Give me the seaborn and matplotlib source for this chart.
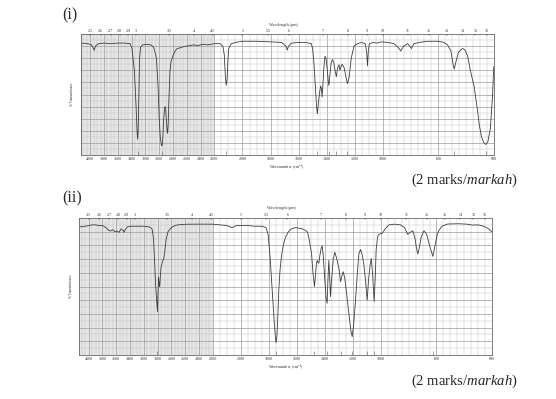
import numpy as np
import matplotlib
matplotlib.use("Agg")
import matplotlib.pyplot as plt
import seaborn as sns

sns.set_theme(style="white")
plt.rcParams['font.family'] = ['Liberation Serif', 'DejaVu Serif']
plt.rcParams['mathtext.fontset'] = 'custom'
plt.rcParams['mathtext.rm'] = 'Liberation Serif'
plt.rcParams['mathtext.it'] = 'Liberation Serif:italic'

# spectrum (i): wavenumber (cm-1) and % transmittance
wn_i = [4135, 4050, 3990, 3960, 3940, 3925, 3880, 3800, 3700, 3600, 3500, 3420,
        3395, 3360, 3335, 3320, 3312, 3305, 3295, 3284, 3270, 3240, 3180, 3120,
        3080, 3040, 3015, 3000, 2985, 2968, 2958, 2948, 2935, 2918, 2907, 2898,
        2885, 2878, 2870, 2860, 2845, 2830, 2800, 2770, 2740, 2700, 2650, 2600,
        2550, 2500, 2450, 2400, 2350, 2300, 2250, 2200, 2160, 2140, 2130, 2122,
        2116, 2110, 2104, 2098, 2080, 2050, 2000, 1900, 1800, 1720, 1690, 1681,
        1672, 1650, 1600, 1550, 1510, 1500, 1490, 1480, 1472, 1466, 1460, 1450,
        1443, 1437, 1433, 1428, 1420, 1412, 1405, 1395, 1388, 1384, 1378, 1368,
        1360, 1350, 1340, 1331, 1322, 1312, 1305, 1298, 1290, 1275, 1262, 1252,
        1240, 1225, 1205, 1181, 1150, 1125, 1115, 1109, 1103, 1095, 1070, 1040,
        1010, 980, 960, 945, 935, 925, 910, 897, 888, 870, 840, 800, 780, 767,
        755, 748, 743, 738, 728, 713, 705, 695, 685, 671, 660, 653, 645, 636,
        629, 622, 613, 605, 601]
t_i = [92.5, 92, 91.5, 89, 86.5, 90, 92, 92.5, 92, 92.5, 92.5, 92,
       88, 70, 40, 18, 13, 20, 50, 80, 89, 91, 91.5, 91,
       89, 80, 55, 30, 15, 8, 7.6, 14, 30, 40, 39, 30,
       20, 18, 25, 45, 68, 77, 82, 86, 88, 88.5, 89.5, 90,
       90.5, 91, 90.5, 91, 91.5, 91, 91.5, 92, 92, 90, 83, 65,
       57.6, 62, 78, 88, 92, 93, 94, 94, 93.5, 93, 90, 86.7,
       90, 92.5, 93, 93, 92, 88, 75, 55, 40, 34, 42, 52,
       57, 55, 48, 55, 72, 81.6, 80, 70, 60, 57.6, 65, 76,
       78.8, 77, 70, 64.7, 72, 74.6, 70, 73, 75, 72, 64, 59,
       64, 80, 90, 92, 93, 92, 85, 73.7, 86, 92, 93, 92.5,
       93.5, 93, 92, 89, 86, 90, 92, 88, 92, 93, 94, 94, 93, 91,
       86, 76, 71, 76, 85, 88, 87, 82, 70, 56, 38, 25, 15, 10,
       8.7, 11, 22, 50, 73]
# little peak marks printed along the bottom edge
marks_i = [3312, 2958, 2116, 1466, 1384, 1331, 1252, 743, 629]

# spectrum (ii)
wn_ii = [4140, 4100, 4050, 4000, 3950, 3900, 3850, 3800, 3750, 3710, 3680, 3650,
         3620, 3590, 3560, 3530, 3500, 3486, 3470, 3440, 3400, 3300, 3200, 3120,
         3080, 3060, 3045, 3030, 3015, 3003, 2995, 2987, 2978, 2969, 2960, 2950,
         2930, 2911, 2895, 2878, 2850, 2800, 2750, 2700, 2600, 2500, 2400, 2300,
         2200, 2150, 2100, 2062, 2030, 2000, 1950, 1900, 1850, 1820, 1805, 1790,
         1776, 1762, 1752, 1748, 1742, 1735, 1729, 1720, 1710, 1695, 1681, 1660,
         1640, 1610, 1580, 1560, 1540, 1526, 1515, 1505, 1495, 1485, 1474, 1466,
         1460, 1455, 1448, 1443, 1435, 1425, 1419, 1412, 1400, 1392, 1384, 1378,
         1372, 1366, 1360, 1352, 1340, 1329, 1320, 1310, 1298, 1288, 1278, 1269,
         1258, 1245, 1229, 1215, 1205, 1195, 1181, 1168, 1157, 1145, 1133, 1121,
         1108, 1098, 1088, 1078, 1069, 1060, 1048, 1040, 1034, 1025, 1019, 1005,
         995, 985, 971, 950, 930, 915, 903, 895, 885, 877, 872, 867,
         862, 855, 845, 835, 825, 813, 805, 797, 791, 780, 760, 720,
         690, 670, 650, 630, 615, 605, 600]
t_ii = [94, 93.5, 94, 94.5, 95, 95, 94.5, 94.5, 93, 91, 90.5, 91.5,
        90, 90.5, 89.5, 92, 91, 89.5, 91.5, 93.5, 94, 94, 94, 93.5,
        92, 85, 70, 52, 40, 31.6, 45, 56.7, 52, 50, 58, 64,
        68, 70.5, 76, 84, 90, 93, 94.5, 95, 95.4, 95.5, 95.5, 95.5,
        95.5, 95, 94.5, 93, 94.5, 94.5, 94.5, 94, 94, 93, 88, 70,
        47, 25, 12, 9, 14, 30, 47, 62, 72, 81, 86, 90,
        92, 93, 92.5, 92, 91, 90, 86, 80, 74, 60, 50, 60,
        67, 69, 67.5, 67, 73, 78.5, 79.5, 73, 55, 42, 37.7, 55,
        69, 58, 42.6, 55, 70, 75, 72, 68, 62, 53.5, 58, 60.8,
        56, 45, 30.4, 18, 13.4, 22, 40, 60, 74, 77, 73, 65.7,
        52, 40, 55, 65, 70.5, 60, 39, 58, 76.6, 85, 87.6, 88.5,
        88.8, 92, 95, 95.5, 95, 93, 88, 89.5, 90.7, 85, 78, 73.7,
        78, 86, 90.7, 88, 80, 72, 80, 88, 91, 94, 95.6, 95.8,
        95.5, 94.8, 95, 94, 92.5, 90.7, 90]
marks_ii = [3003, 1748, 1474, 1384, 1288, 1205, 1098, 1048, 813]

wn_ticks = [4000, 3800, 3600, 3400, 3200, 3000, 2800, 2600, 2400, 2200,
            2000, 1800, 1600, 1400, 1200, 1000, 800, 600]
um_ticks = [2.5, 2.6, 2.7, 2.8, 2.9, 3, 3.5, 4, 4.5, 5, 5.5, 6,
            7, 8, 9, 10, 11, 12, 13, 14, 15, 16]

# the chart paper: 4000-2200 compressed, 2200-1000 normal, 1000-600 stretched
BREAKS = [600, 1000, 2200, 4000, 4400]
POS = [0, 111, 279, 403, 430.6]


def fwd(x):
    return np.interp(x, BREAKS, POS)


def inv(p):
    return np.interp(p, POS, BREAKS)


minor_wn = (list(range(625, 1000, 25)) + list(range(1050, 2200, 50))
            + list(range(2250, 4140, 50)))


def draw_spectrum(rect, wn, t, marks, tag, tag_y, marks_y):
    ax = fig.add_axes(rect)
    ax.set_xscale('function', functions=(fwd, inv))
    ax.axvspan(2200, 4140, color='#e6e6e6', zorder=0.1, lw=0)
    sns.lineplot(x=wn, y=t, ax=ax, color='#3c3c3c', linewidth=0.6,
                 estimator=None, sort=False)
    # peak marks at the bottom edge
    sns.scatterplot(x=marks, y=[1.5] * len(marks), ax=ax, marker='|', s=6,
                    color='#555555', linewidth=0.4)
    ax.set_xlim(4140, 600)
    ax.set_ylim(0, 100)

    ax.set_xticks(wn_ticks)
    ax.set_xticklabels([str(v) for v in wn_ticks])
    ax.set_xticks(minor_wn, minor=True)
    ax.set_yticks(np.arange(10, 100, 10))
    ax.set_yticks(np.arange(5, 100, 10), minor=True)
    ax.set_yticklabels([])
    ax.grid(which='major', color='#9a9a9a', linewidth=0.5)
    ax.grid(which='minor', color='#c4c4c4', linewidth=0.35)
    ax.tick_params(which='both', length=0, labelsize=3, pad=1.5, colors='#333333')
    ax.set_xlabel("Wavenumber (cm$^{-1}$)", fontsize=3, labelpad=1.5, color='#333333')
    ax.set_ylabel("% Transmittance", fontsize=2.5, labelpad=3, color='#333333')
    for s in ax.spines.values():
        s.set_color('#666666')
        s.set_linewidth(0.6)

    top = ax.twiny()
    top.set_xscale('function', functions=(fwd, inv))
    top.set_xlim(ax.get_xlim())
    top.set_xticks([10000 / u for u in um_ticks])
    top.set_xticklabels([f"{u:g}" for u in um_ticks])
    top.tick_params(length=1.2, width=0.3, labelsize=3, pad=1, direction='in',
                    colors='#333333')
    top.set_xlabel("Wavelength (\u00b5m)", fontsize=3, labelpad=1.5, color='#333333')
    top.xaxis.set_label_coords(0.49, 1.065)
    for s in top.spines.values():
        s.set_visible(False)

    fig.text(62 / 556, tag_y, tag, fontsize=11.5, va='center', ha='left')
    fig.text(518 / 556, marks_y, r"(2 marks/$\mathit{markah}$)", fontsize=10.5,
             va='center', ha='right')
    return ax


fig = plt.figure(figsize=(5.56, 3.99), dpi=100)
draw_spectrum([80.5 / 556, 1 - 155 / 399, 413.5 / 556, 121 / 399], wn_i, t_i, marks_i,
              "(i)", 1 - 15 / 399, 1 - 180 / 399)
draw_spectrum([79 / 556, 1 - 355 / 399, 413 / 556, 137 / 399], wn_ii, t_ii, marks_ii,
              "(ii)", 1 - 198.5 / 399, 1 - 381.5 / 399)

fig.savefig("out.png", dpi=100)
